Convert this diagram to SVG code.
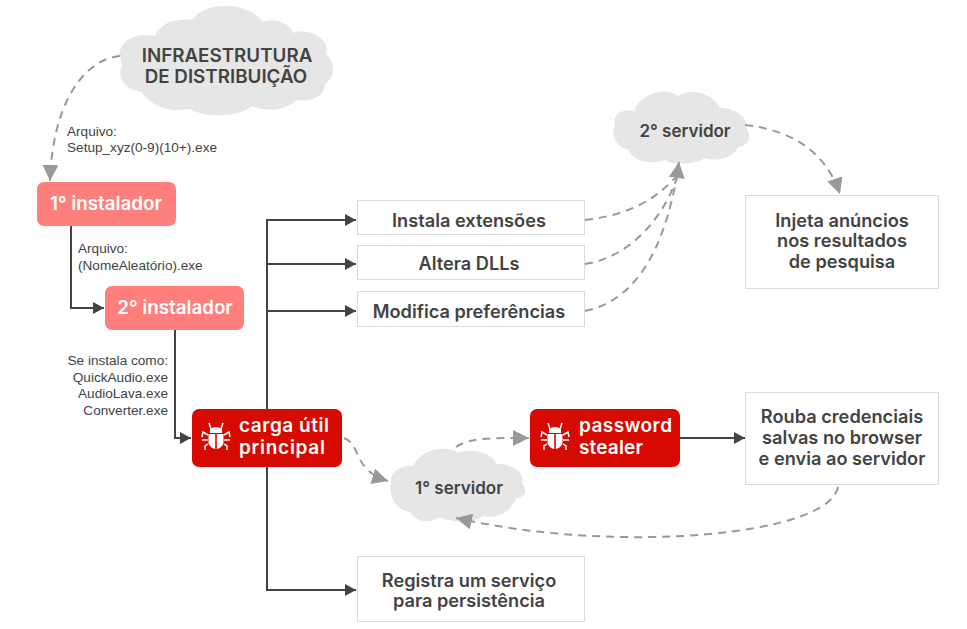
<svg xmlns="http://www.w3.org/2000/svg" width="967" height="629" viewBox="0 0 967 629">
<style>
.t{font-family:Inter,"Open Sans",sans-serif;font-weight:600;text-anchor:middle}
.dk{fill:#434343;font-size:18.2px}
.sv{fill:#434343;font-size:17px}
.in{fill:#434343;font-size:18.8px}
.wh{fill:#fff;font-size:18.8px}
.wb{fill:#fff;font-size:19px;text-anchor:start}
.sm{font-family:"Liberation Sans",Arial,sans-serif;font-size:13.6px;fill:#434343}
.r{text-anchor:end}
.box{fill:#fff;stroke:#dcdcdc;stroke-width:1}
.pink{fill:#ff7f7c}
.red{fill:#d60a00}
.cloud{fill:#e6e6e6}
.solid{fill:none;stroke:#434343;stroke-width:2}
.dash{fill:none;stroke:#999;stroke-width:2;stroke-dasharray:8 6}
</style>
<defs>
<marker id="a" markerUnits="userSpaceOnUse" markerWidth="12" markerHeight="12" refX="11" refY="6" orient="auto"><path d="M0 0L11 6L0 12Z" fill="#434343"/></marker>
<marker id="b" markerUnits="userSpaceOnUse" markerWidth="17" markerHeight="16" refX="16" refY="8" orient="auto"><path d="M0 0L16 8L0 16Z" fill="#999"/></marker>
<g id="bug" fill="#fff">
<path d="M-6 -9Q0 -13 6 -9L6 -5L-6 -5Z"/>
<path d="M-7.500 -4H-0.800V11Q-6 10 -7.500 5Z"/>
<path d="M7.500 -4H0.800V11Q6 10 7.500 5Z"/>
<path d="M-5 -9L-7 -15M5 -9L7 -15M-8 -3L-13 -6L-14 -1M8 -3L13 -6L14 -1M-8 2H-14M8 2H14M-8 6L-11 8V12M8 6L11 8V12" fill="none" stroke="#fff" stroke-width="1.500"/>
</g>
</defs>

<g id="infra">
<path class="cloud" d="M120 56C118 40 138 32 155 36C160 22 178 18 192 20C205 0 250 2 263 22C275 18 290 23 293 33C310 27 331 40 326 54C336 62 335 78 325 84C325 98 308 102 296 100C288 110 268 113 252 106C238 118 205 118 190 109C170 114 148 104 142 92C124 90 116 76 122 66Z"/>
<text class="t in" x="227" y="62">INFRAESTRUTURA</text>
<text class="t in" x="226" y="83">DE DISTRIBUIÇÃO</text>
</g>
<g id="label-arquivo1"><text class="sm" x="67" y="136">Arquivo:</text><text class="sm" x="67" y="152">Setup_xyz(0-9)(10+).exe</text></g>
<g id="instalador1"><rect class="pink" x="37" y="182" width="139" height="44" rx="7"/><text class="t wh" x="106" y="210">1° instalador</text></g>
<g id="label-arquivo2"><text class="sm" x="78" y="253">Arquivo:</text><text class="sm" x="78" y="270">(NomeAleatório).exe</text></g>
<g id="instalador2"><rect class="pink" x="105" y="286" width="139" height="44" rx="7"/><text class="t wh" x="175" y="314">2° instalador</text></g>
<g id="label-instala"><text class="sm r" x="168" y="365">Se instala como:</text><text class="sm r" x="168" y="382">QuickAudio.exe</text><text class="sm r" x="168" y="398">AudioLava.exe</text><text class="sm r" x="168" y="415">Converter.exe</text></g>
<g id="carga"><rect class="red" x="192" y="409" width="150" height="58" rx="7"/><use href="#bug" x="216" y="438"/><text class="t wb" x="239" y="432" textLength="90">carga útil</text><text class="t wb" x="239" y="454" textLength="86">principal</text></g>
<g id="stealer"><rect class="red" x="530" y="409" width="150" height="58" rx="7"/><use href="#bug" x="555" y="438"/><text class="t wb" x="579" y="432" textLength="93">password</text><text class="t wb" x="579" y="454" textLength="64">stealer</text></g>
<g id="servidor1"><path class="cloud" d="M391 483C389 472 402 464 413 466C420 450 445 444 458 453C470 448 490 451 497 464C510 463 526 473 522 483C528 490 526 498 516 498C512 512 495 520 484 516C470 524 450 522 440 517C430 524 415 522 410 512C396 510 388 496 391 483Z"/><text class="t sv" x="459" y="494">1° servidor</text></g>
<g id="servidor2"><path class="cloud" d="M615 125C612 113 625 108 634 111C640 94 665 86 678 96C690 88 712 92 720 108C733 108 749 116 746 128C752 134 750 146 738 147C733 158 718 162 705 158C695 165 672 165 664 160C652 166 630 160 629 150C617 148 610 135 615 125Z"/><text class="t sv" x="685" y="137">2° servidor</text></g>
<g id="extensoes"><rect class="box" x="357.500" y="200.500" width="227" height="34"/><text class="t dk" x="469" y="227">Instala extensões</text></g>
<g id="dlls"><rect class="box" x="357.500" y="245.500" width="227" height="34"/><text class="t dk" x="469" y="270">Altera DLLs</text></g>
<g id="preferencias"><rect class="box" x="357.500" y="291.500" width="227" height="35"/><text class="t dk" x="469" y="318">Modifica preferências</text></g>
<g id="injeta"><rect class="box" x="745.500" y="195.500" width="193" height="93"/><text class="t dk" x="842" y="227">Injeta anúncios</text><text class="t dk" x="842" y="247">nos resultados</text><text class="t dk" x="842" y="268">de pesquisa</text></g>
<g id="rouba"><rect class="box" x="745.500" y="392.500" width="193" height="92"/><text class="t dk" x="842" y="423">Rouba credenciais</text><text class="t dk" x="842" y="444">salvas no browser</text><text class="t dk" x="842" y="465">e envia ao servidor</text></g>
<g id="registra"><rect class="box" x="357.500" y="556.500" width="227" height="65"/><text class="t dk" x="469" y="587">Registra um serviço</text><text class="t dk" x="469" y="607">para persistência</text></g>

<g id="connectors">
<path class="dash" d="M120 56C80 60 52 110 50 181" marker-end="url(#b)"/>
<path class="solid" d="M71 226V308H104" marker-end="url(#a)"/>
<path class="solid" d="M175 330V438H191" marker-end="url(#a)"/>
<path class="solid" d="M267 409V220H356" marker-end="url(#a)"/>
<path class="solid" d="M267 264H356" marker-end="url(#a)"/>
<path class="solid" d="M267 311H356" marker-end="url(#a)"/>
<path class="solid" d="M267 467V590H356" marker-end="url(#a)"/>
<path class="solid" d="M680 438H745" marker-end="url(#a)"/>
<path class="dash" d="M585 220C620 216 650 205 675 178"/>
<path class="dash" d="M585 264C625 258 660 225 677 178"/>
<path class="dash" d="M585 311C640 300 668 240 679 162" marker-end="url(#b)"/>
<path class="dash" d="M745 125C790 130 825 150 840 194" marker-end="url(#b)"/>
<path class="dash" d="M344 438C362 445 352 470 388 481" marker-end="url(#b)"/>
<path class="dash" d="M456 447C470 437 495 438 529 438" marker-end="url(#b)"/>
<path class="dash" d="M838 487C830 535 620 555 456 518" marker-end="url(#b)"/>
</g>
</svg>
